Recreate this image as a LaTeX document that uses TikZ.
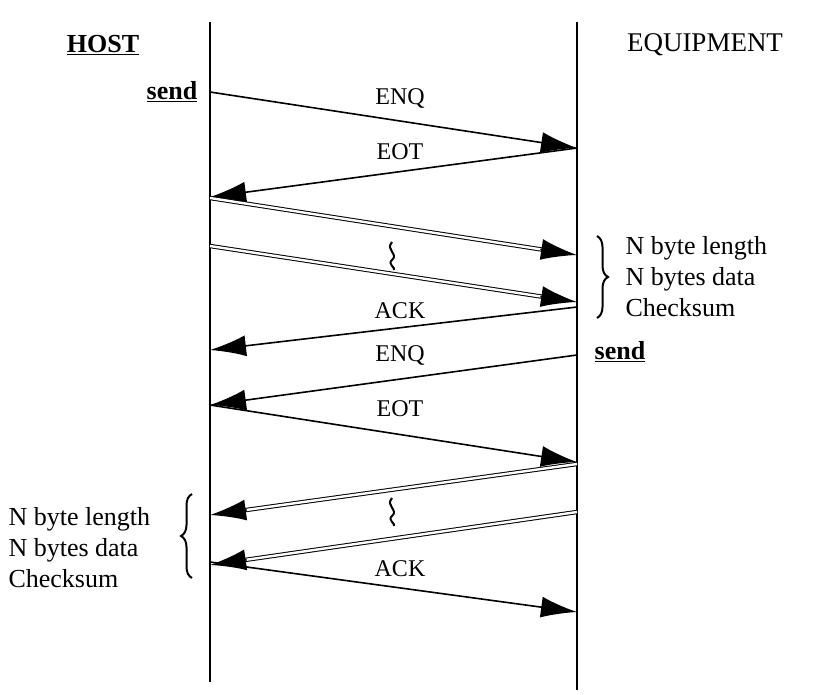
\documentclass[tikz,border=0pt]{standalone}
\usepackage{fontspec}
\setmainfont{Liberation Serif}
\usetikzlibrary{arrows.meta,decorations.pathreplacing,calc}
\begin{document}
\begin{tikzpicture}[x=1pt,y=-1pt,
  msg/.style={line width=1.6pt,-{Latex[length=36pt,width=21pt]}},
  dbl/.style={double,double distance=2.4pt,line width=1pt,shorten >=30pt},
  tip/.style={line width=1.6pt,-{Latex[length=36pt,width=21pt]}},
  lbl/.style={font=\fontsize{24}{26}\selectfont},
  side/.style={font=\fontsize{26}{31}\selectfont,align=left},
  ul/.style={font=\bfseries\fontsize{26}{28}\selectfont},
  squig/.style={line width=2pt}]
\useasboundingbox (0,0) rectangle (826,694);
\coordinate (ht) at (210,22); \coordinate (hb) at (210,682);
\coordinate (et) at (577,22); \coordinate (eb) at (577,690);
\draw[line width=2pt] (ht)--(hb);
\draw[line width=2pt] (et)--(eb);
\node[ul] (host) at (103,45) {\underline{HOST}};
\node[font=\fontsize{27}{29}\selectfont] (equip) at (705,45) {EQUIPMENT};
\node[ul] (send1) at (172,92) {\underline{send}};
\node[ul] (send2) at (620,352) {\underline{send}};
\coordinate (a1) at (210,92);  \coordinate (b1) at (577,148);
\coordinate (a2) at (210,197);
\coordinate (a3) at (210,198); \coordinate (b3) at (577,255);
\coordinate (a4) at (210,246); \coordinate (b4) at (577,302);
\coordinate (b5) at (577,307); \coordinate (a5) at (210,350);
\coordinate (b6) at (577,355); \coordinate (a6) at (210,405);
\coordinate (b7) at (577,462);
\coordinate (b8) at (577,464); \coordinate (a8) at (210,515);
\coordinate (b9) at (577,512); \coordinate (a9) at (210,565);
\coordinate (a10) at (210,562); \coordinate (b10) at (577,612);
\draw[msg] (a1)--(b1);
\draw[msg] (b1)--(a2);
\draw[dbl] (a3)--(b3); \draw[tip] ($(a3)!0.9!(b3)$)--(b3);
\draw[dbl] (a4)--(b4); \draw[tip] ($(a4)!0.9!(b4)$)--(b4);
\draw[msg] (b5)--(a5);
\draw[msg] (b6)--(a6);
\draw[msg] (a6)--(b7);
\draw[dbl] (b8)--(a8); \draw[tip] ($(b8)!0.9!(a8)$)--(a8);
\draw[dbl] (b9)--(a9); \draw[tip] ($(b9)!0.9!(a9)$)--(a9);
\draw[msg] (a10)--(b10);
\node[lbl] (l1) at (400,98) {ENQ};
\node[lbl] (l2) at (400,152) {EOT};
\node[lbl] (l3) at (400,311) {ACK};
\node[lbl] (l4) at (400,355) {ENQ};
\node[lbl] (l5) at (400,409) {EOT};
\node[lbl] (l6) at (400,569) {ACK};
\coordinate (s1) at (392,256);
\draw[squig] ($(s1)+(0,-14)$) .. controls ($(s1)+(-7,-6)$) and ($(s1)+(7,-2)$) .. ($(s1)+(0,4)$) .. controls ($(s1)+(-5,8)$) and ($(s1)+(4,12)$) .. ($(s1)+(2,14)$);
\coordinate (s2) at (392,512);
\draw[squig] ($(s2)+(0,-14)$) .. controls ($(s2)+(-7,-6)$) and ($(s2)+(7,-2)$) .. ($(s2)+(0,4)$) .. controls ($(s2)+(-5,8)$) and ($(s2)+(4,12)$) .. ($(s2)+(2,14)$);
\draw[line width=2pt,decorate,decoration={brace,amplitude=11pt}] (597,236)--(597,318);
\node[side,anchor=west] (t1) at (622,277) {N byte length\\N bytes data\\Checksum};
\draw[line width=2pt,decorate,decoration={brace,amplitude=11pt}] (192,578)--(192,494);
\node[side,anchor=west] (t2) at (5,548) {N byte length\\N bytes data\\Checksum};
\end{tikzpicture}
\end{document}
